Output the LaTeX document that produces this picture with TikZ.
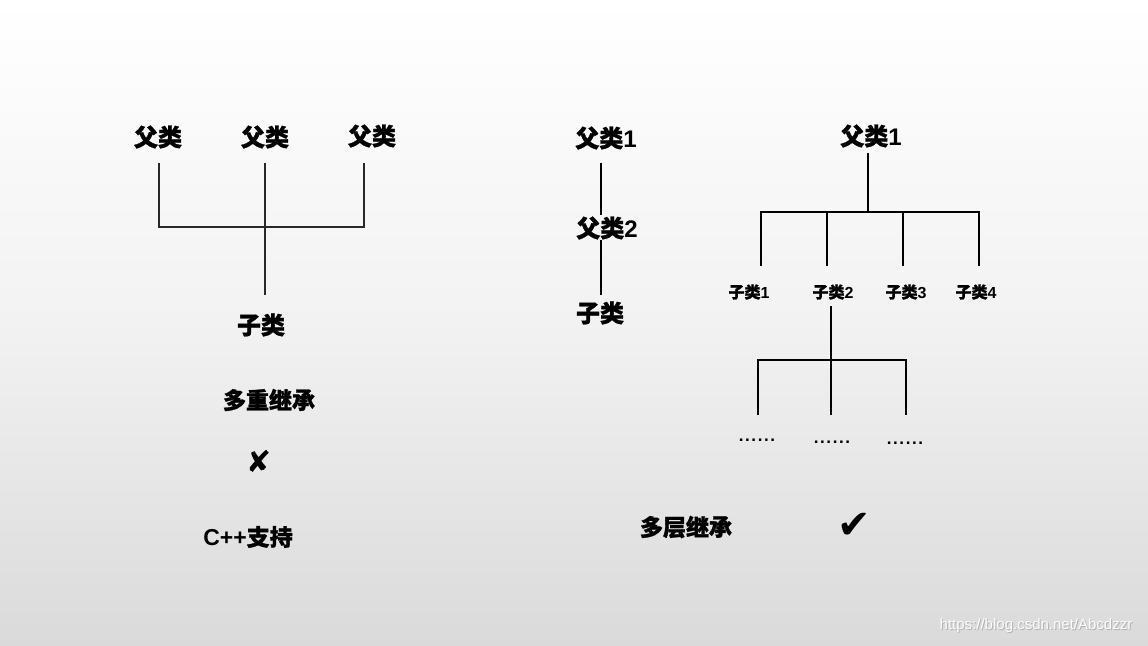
\documentclass[tikz,border=0pt]{standalone}
\usepackage{fontspec}
\setmainfont{Liberation Sans}
\newfontfamily\cjk{Noto Sans CJK SC}[BoldFeatures={FakeBold=1.2}]
\newfontfamily\sym{DejaVu Sans}
\newcommand{\zh}[1]{{\cjk #1}}
\newcommand{\sixdots}{.\kern1.6pt.\kern1.6pt.\kern1.6pt.\kern1.6pt.\kern1.6pt.}
\definecolor{bgbot}{RGB}{218,218,218}
\definecolor{thinc}{RGB}{40,40,40}
\tikzset{
  big/.style={inner sep=0pt,font=\fontsize{24}{27}\selectfont\bfseries},
  mid/.style={inner sep=0pt,font=\fontsize{23}{26}\selectfont\bfseries},
  small/.style={inner sep=0pt,font=\fontsize{16}{18}\selectfont\bfseries},
  dots/.style={inner sep=0pt,font=\fontsize{17}{18}\selectfont\bfseries},
  thinln/.style={draw=thinc,line width=1.2pt},
  thickln/.style={draw=black,line width=2pt},
}
\begin{document}
\begin{tikzpicture}[x=1pt,y=-1pt]
\useasboundingbox (0,0) rectangle (1148,645);
\shade[top color=white,bottom color=bgbot,middle color={rgb,255:red,242;green,242;blue,242}] (0,0) rectangle (1148,645);
% left: multiple inheritance
\node[big] (L1) at (158,137) {\zh{父类}};
\node[big] (L2) at (265,137) {\zh{父类}};
\node[big] (L3) at (372,136) {\zh{父类}};
\node[big] (Lc) at (261,325) {\zh{子类}};
\node[mid] (Lt) at (269,400) {\zh{多重继承}};
\node[inner sep=0pt,font=\fontsize{30}{32}\selectfont\sym] (Lx) at (259,461) {✘};
\node[mid] (Lcpp) at (248,537) {C++\zh{支持}};
\coordinate (jl) at (265,227);
\coordinate (lend) at (265,295);
\draw[thinln] ([xshift=1pt]L1.south |- 0,163) -- ([xshift=1pt]L1.south |- jl) -- ([xshift=-8pt]L3.south |- jl) -- ([xshift=-8pt]L3.south |- 0,163);
\draw[thinln] (L2.south |- 0,163) -- (lend);
% middle: chain
\node[big] (M1) at (606,138) {\zh{父类}1};
\node[big] (M2) at (607,228) {\zh{父类}2};
\node[big] (M3) at (600,313) {\zh{子类}};
\draw[thickln] (601,163) -- (601,215);
\draw[thickln] (601,240) -- (601,295);
% right: tree
\node[big] (R0) at (871,136) {\zh{父类}1};
\node[small] (C1) at (749,292) {\zh{子类}1};
\node[small] (C2) at (833,292) {\zh{子类}2};
\node[small] (C3) at (906,292) {\zh{子类}3};
\node[small] (C4) at (976,292) {\zh{子类}4};
\node[dots] (D1) at (757,440) {\sixdots};
\node[dots] (D2) at (832,442) {\sixdots};
\node[dots] (D3) at (905,443) {\sixdots};
\coordinate (jr) at (868,212);
\coordinate (jc) at (831,360);
\draw[thickln] (868,153) -- (jr);
\draw[thickln] (761,266) -- (761,212) -- (979,212) -- (979,266);
\draw[thickln] (827,212) -- (827,266);
\draw[thickln] (903,212) -- (903,266);
\draw[thickln] (831,306) -- (831,415);
\draw[thickln] (758,415) -- (758,360) -- (906,360) -- (906,415);
\node[mid] (Rt) at (686,527) {\zh{多层继承}};
\node[inner sep=0pt,font=\fontsize{40}{42}\selectfont\sym] (Rv) at (854,526) {✔};
% watermark
\node[inner sep=0pt,font=\fontsize{15}{17}\selectfont,text=gray!60] at (1037,627) {https://blog.csdn.net/Abcdzzr};
\node[inner sep=0pt,font=\fontsize{15}{17}\selectfont,text=white!97!gray] at (1036,626) {https://blog.csdn.net/Abcdzzr};
\end{tikzpicture}
\end{document}
